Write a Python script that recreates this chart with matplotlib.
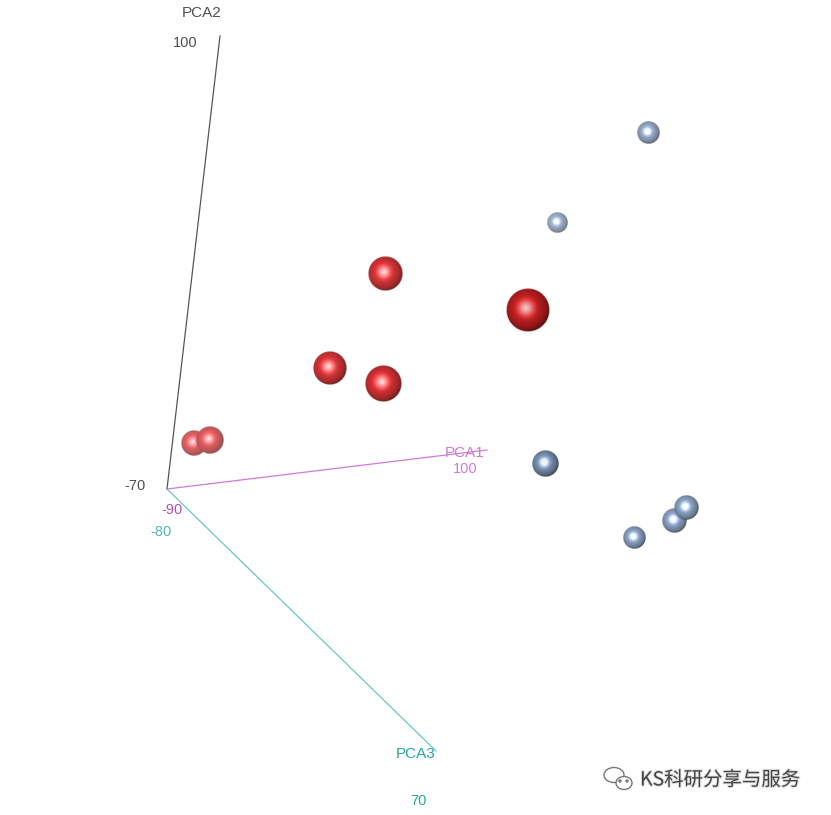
import numpy as np
import matplotlib.pyplot as plt
from matplotlib.patches import Ellipse, Circle
import matplotlib.patheffects as pe

# projected sample positions (screen space of the 3D view), sphere radius, group, fog
sample_x = [194, 210, 330, 383, 385, 528, 648, 557, 545, 634, 674, 686]
sample_y = [443, 440, 368, 384, 274, 310, 133, 223, 464, 538, 521, 508]
sample_r = [13, 14, 17, 18.5, 17.5, 22, 11.5, 10.5, 13.5, 11.5, 12.5, 12.5]
sample_group = ['A', 'A', 'A', 'A', 'A', 'A', 'B', 'B', 'B', 'B', 'B', 'B']
sample_fog = [0.28, 0.26, 0.08, 0.06, 0.08, -0.08, 0.15, 0.22, -0.05, 0.08, 0.08, 0.08]

group_color = {'A': (0.78, 0.12, 0.13), 'B': (0.47, 0.56, 0.69)}

# axes of the 3D box: origin and end points, labels, tick values
axis_origin = (167, 489)
axis_end = {'PCA1': (487, 450), 'PCA2': (220, 36), 'PCA3': (436, 751)}
axis_color = {'PCA1': '#d07ad6', 'PCA2': '#555555', 'PCA3': '#6cc4c4'}
axis_min = {'PCA1': '-90', 'PCA2': '-70', 'PCA3': '-80'}
axis_max = {'PCA1': '100', 'PCA2': '100', 'PCA3': '70'}


def sphere_img(color, fog, n=80):
    xx, yy = np.meshgrid(np.linspace(-1, 1, n), np.linspace(1, -1, n))
    rr = xx ** 2 + yy ** 2
    zz = np.sqrt(np.clip(1 - rr, 0, 1))
    L = np.array([-0.2, 0.2, 1.0])
    L = L / np.linalg.norm(L)
    diff = np.clip(xx * L[0] + yy * L[1] + zz * L[2], 0, 1)
    H = L + np.array([0, 0, 1.0])
    H = H / np.linalg.norm(H)
    spec = np.clip(xx * H[0] + yy * H[1] + zz * H[2], 0, 1) ** 18
    base = np.array(color)
    rgb = base[None, None, :] * (0.38 + 0.72 * diff[..., None] ** 0.7) + 0.7 * spec[..., None]
    rgb = np.clip(rgb, 0, 1)
    if fog > 0:
        rgb = rgb * (1 - fog) + fog
    else:
        rgb = rgb * (1 + fog)
    alpha = np.clip((1 - np.sqrt(rr)) * n / 2.5, 0, 1)
    return np.dstack([rgb, alpha])


fig = plt.figure(figsize=(8.31, 8.15), dpi=100)
ax = fig.add_axes([0, 0, 1, 1])
ax.axis('off')

ox, oy = axis_origin
for name, (ex, ey) in axis_end.items():
    ax.plot([ox, ex], [oy, ey], color=axis_color[name], lw=0.9, zorder=1)

font = ['Liberation Sans', 'DejaVu Sans']
ax.text(202, 13, 'PCA2', color='#505050', fontsize=11, ha='center', va='center', family=font)
ax.text(185, 43, axis_max['PCA2'], color='#505050', fontsize=10.5, ha='center', va='center', family=font)
ax.text(135, 486, axis_min['PCA2'], color='#505050', fontsize=10.5, ha='center', va='center', family=font)
ax.text(172, 510, axis_min['PCA1'], color='#b050b8', fontsize=10.5, ha='center', va='center', family=font)
ax.text(161, 532, axis_min['PCA3'], color='#55b4b8', fontsize=10.5, ha='center', va='center', family=font)
ax.text(465, 453, 'PCA1', color='#d07ad6', fontsize=11, ha='center', va='center', family=font, zorder=0)
ax.text(465, 469, axis_max['PCA1'], color='#d07ad6', fontsize=10.5, ha='center', va='center', family=font)
ax.text(416, 754, 'PCA3', color='#2aa3a3', fontsize=11, ha='center', va='center', family=font, zorder=0)
ax.text(418, 801, axis_max['PCA3'], color='#2aa3a3', fontsize=10.5, ha='center', va='center', family=font)

for i, (x, y, r, g, f) in enumerate(zip(sample_x, sample_y, sample_r, sample_group, sample_fog)):
    img = sphere_img(group_color[g], f)
    ax.imshow(img, extent=(x - r, x + r, y + r, y - r), interpolation='bilinear', zorder=3 + i)

# watermark
ax.add_patch(Ellipse((614, 775), 20, 15, fill=False, ec='#777777', lw=1.0, zorder=20))
ax.add_patch(Ellipse((624, 783), 16, 13, ec='#777777', lw=1.0, zorder=21, fc='white'))
for dx in (-4, 3):
    ax.add_patch(Circle((624 + dx, 781), 1.0, color='#777777', zorder=22))
ax.text(640, 780, 'KS科研分享与服务', color='#444444', fontsize=14, ha='left', va='center',
        family=['Noto Sans CJK SC', 'DejaVu Sans'], zorder=20,
        path_effects=[pe.withStroke(linewidth=1.4, foreground='#dddddd')])

ax.set_aspect('auto')
ax.set_xlim(0, 831)
ax.set_ylim(815, 0)
fig.savefig('out.png', dpi=100)
